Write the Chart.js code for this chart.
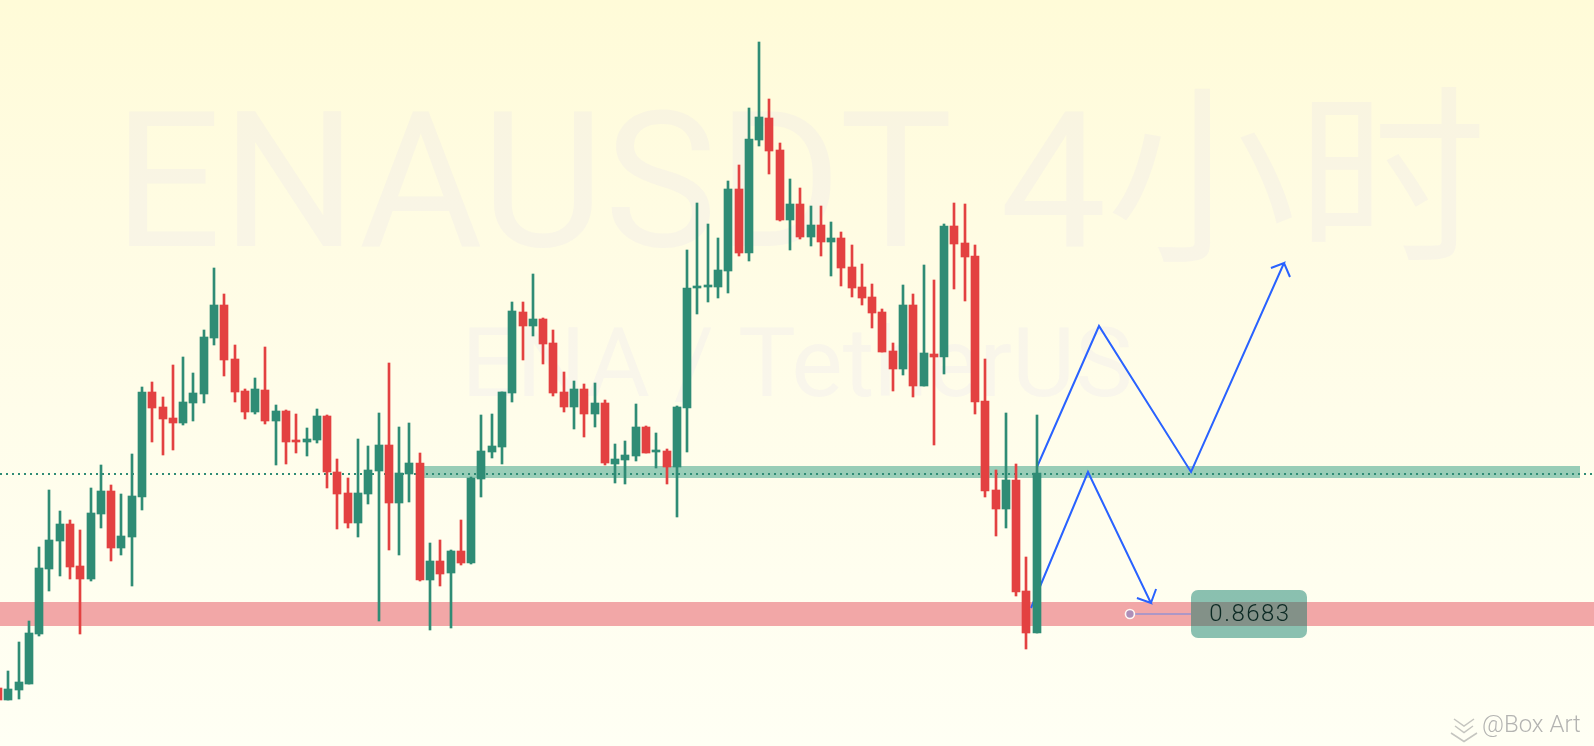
<!DOCTYPE html>
<html>
<head>
<meta charset="utf-8">
<title>ENAUSDT 4小时</title>
<script src="https://cdn.jsdelivr.net/npm/chart.js@4/dist/chart.umd.min.js"></script>
<style>
    html, body { margin: 0; padding: 0; overflow: hidden; }
    body { width: 1594px; height: 746px; background: linear-gradient(180deg, #FFFBD8 0%, #FFFCE3 30%, #FFFDEA 55%, #FFFFF4 100%); }
    canvas { display: block; }
</style>
</head>
<body>
<canvas id="chart" width="1594" height="746"></canvas>
<script>
// candles (price per bar)
const opens  = [.794,.782,.792,.798,.848,.913,.941,.958,.916,.903,.968,.991,.934,.945,.985,1.090,1.075,1.064,1.059,1.079,
    1.088,1.144,1.177,1.123,1.091,1.070,1.092,1.061,1.071,1.042,1.040,1.042,1.066,1.010,.989,.959,.988,1.011,1.037,.979,
    1.008,1.019,.902,.921,.909,.931,.919,1.003,1.030,1.035,1.089,1.170,1.156,1.163,1.139,1.090,1.075,1.093,1.068,1.079,
    1.018,1.022,1.026,1.055,1.030,1.031,1.015,1.074,1.194,1.195,1.195,1.211,1.293,1.229,1.342,1.364,1.332,1.262,1.278,1.245,
    1.257,1.240,1.244,1.215,1.195,1.185,1.170,1.131,1.113,1.177,1.096,1.128,1.125,1.256,1.239,1.226,1.081,.992,.973,1.002,
    .891,.849];
const closes = [.782,.793,.800,.849,.914,.942,.958,.915,.903,.969,.991,.934,.946,.986,1.090,1.074,1.063,1.059,1.080,1.089,
    1.145,1.177,1.122,1.090,1.070,1.093,1.061,1.071,1.040,1.040,1.043,1.066,1.010,.988,.959,.989,1.012,1.037,.979,1.009,
    1.019,.902,.921,.908,.931,.919,1.004,1.031,1.036,1.090,1.171,1.156,1.163,1.138,1.089,1.075,1.093,1.068,1.079,1.019,
    1.023,1.027,1.055,1.029,1.032,1.015,1.075,1.194,1.196,1.197,1.212,1.293,1.229,1.343,1.365,1.331,1.262,1.278,1.245,1.257,
    1.240,1.244,1.214,1.194,1.184,1.169,1.130,1.113,1.177,1.096,1.129,1.125,1.256,1.238,1.225,1.080,.991,.973,1.002,.890,
    .849,1.009];
const highs  = [.794,.811,.840,.861,.935,.992,.971,.962,.952,.994,1.017,.997,.988,1.028,1.095,1.100,1.085,1.117,1.125,1.109,
    1.152,1.214,1.188,1.137,1.093,1.104,1.135,1.077,1.072,1.068,1.054,1.073,1.067,1.023,1.004,1.043,1.036,1.069,1.119,1.055,
    1.059,1.029,.939,.942,.932,.962,1.005,1.067,1.068,1.090,1.180,1.180,1.208,1.164,1.152,1.110,1.101,1.098,1.099,1.082,
    1.038,1.041,1.078,1.056,1.049,1.033,1.076,1.232,1.279,1.258,1.244,1.301,1.317,1.374,1.440,1.383,1.339,1.303,1.294,1.276,
    1.276,1.260,1.250,1.237,1.218,1.198,1.173,1.139,1.197,1.188,1.217,1.202,1.258,1.279,1.278,1.237,1.123,1.012,1.069,1.018,
    .925,1.067];
const lows   = [.782,.782,.783,.798,.846,.891,.906,.903,.848,.901,.954,.921,.927,.896,.972,1.040,1.027,1.032,1.057,1.061,
    1.079,1.137,1.106,1.080,1.063,1.068,1.058,1.017,1.018,1.029,1.026,1.039,.994,.953,.954,.945,.978,.861,.932,.927,
    .980,.901,.852,.896,.854,.917,.918,.985,1.024,1.018,1.080,1.122,1.146,1.118,1.086,1.070,1.053,1.045,1.055,1.017,
    .999,.998,1.021,1.029,1.014,.998,.965,1.030,1.168,1.180,1.184,1.189,1.226,1.221,1.336,1.308,1.261,1.232,1.243,1.236,
    1.226,1.206,1.196,1.185,1.177,1.154,1.130,1.091,1.107,1.085,1.096,1.037,1.108,1.193,1.181,1.068,.985,.946,.954,.886,
    .833,.849];

// horizontal zones and the last price line
const redZone     = [.856, .880];
const greenZone   = [1.004, 1.016];
const greenZoneX  = [41.42, 153.82];
const priceLine   = 1.008;
const priceLineX  = [.1945, 13.22, null, 14.78, 155.18];
const markedPrice = .8683;
const markedX     = 110.06;

// hand drawn blue paths, in bar index / price
const pathUpX   = [101.02, 107.05, 116.0, 125.04, 123.77, 125.04, 125.62];
const pathUpY   = [1.015, 1.156, 1.010, 1.219, 1.214, 1.219, 1.205];
const pathDownX = [100.44, 105.98, 112.1, 110.74, 112.1, 112.6];
const pathDownY = [.874, 1.010, .879, .884, .879, .893];

const titleText    = 'ENAUSDT 4小时';
const subtitleText = 'ENA / TetherUS';
const markText     = '@Box Art';

const GREEN = '#2F8C75';
const RED   = '#E34141';

const candleIndex = opens.map((_, i) => i);
const candleColor = candleIndex.map(i => closes[i] >= opens[i] ? GREEN : RED);

function points(xs, ys) {
    return xs.map((x, i) => ({ x, y: ys[i] }));
}

// keeps candle edges on whole pixels like the source screenshot
const snapBars = {
    id: 'snapBars',
    afterDatasetsUpdate(chart) {
        chart.getSortedVisibleDatasetMetas().forEach(meta => {
            if (meta.type !== 'bar') return;
            meta.data.forEach(el => { el.x = Math.round(el.x); });
        });
    }
};

const watermarks = {
    id: 'watermarks',
    beforeDatasetsDraw(chart) {
        const ctx = chart.ctx;
        ctx.save();
        ctx.textAlign = 'center';
        ctx.textBaseline = 'alphabetic';
        ctx.fillStyle = 'rgba(195,190,255,0.1)';
        ctx.font = '190px Roboto, "Noto Sans CJK SC"';
        ctx.fillText(titleText, 800, 246);
        ctx.font = '97px Roboto, "Noto Sans CJK SC"';
        ctx.fillText(subtitleText, 797, 396);
        ctx.restore();
    }
};

const markedLevel = {
    id: 'markedLevel',
    afterDatasetsDraw(chart) {
        const ctx = chart.ctx;
        const y = Math.round(chart.scales.y.getPixelForValue(markedPrice));
        const x = chart.scales.x.getPixelForValue(markedX);
        const boxLeft = 1191, boxRight = 1307;

        ctx.save();
        ctx.strokeStyle = '#AE97C6';
        ctx.lineWidth = 2;
        ctx.beginPath();
        ctx.moveTo(x, y);
        ctx.lineTo(boxLeft, y);
        ctx.stroke();

        ctx.beginPath();
        ctx.arc(x, y, 4.5, 0, Math.PI * 2);
        ctx.fillStyle = '#AE8FB8';
        ctx.fill();
        ctx.strokeStyle = '#FFF8F4';
        ctx.lineWidth = 1.6;
        ctx.stroke();

        ctx.beginPath();
        ctx.roundRect(boxLeft, y - 24, boxRight - boxLeft, 48, 7);
        ctx.fillStyle = 'rgba(0,120,100,0.46)';
        ctx.fill();

        ctx.fillStyle = '#0C2A24';
        ctx.font = '300 24px Roboto';
        ctx.letterSpacing = '1.5px';
        ctx.textAlign = 'center';
        ctx.textBaseline = 'middle';
        ctx.fillText(markedPrice.toFixed(4), (boxLeft + boxRight) / 2 + 1, y + 1);
        ctx.restore();

        // site logo and handle, bottom right
        ctx.save();
        ctx.strokeStyle = 'rgba(150,150,150,0.55)';
        ctx.lineWidth = 1.5;
        [[0, 6], [7, 5], [14, 9]].forEach(([dy, w]) => {
            ctx.beginPath();
            ctx.moveTo(1464 - w - 4, 719 + dy);
            ctx.lineTo(1464, 723 + dy + w / 2);
            ctx.lineTo(1464 + w + 4, 719 + dy);
            ctx.stroke();
        });
        ctx.font = '300 24px Roboto';
        ctx.textAlign = 'left';
        ctx.textBaseline = 'alphabetic';
        ctx.shadowColor = '#FFFFFF';
        ctx.shadowBlur = 2;
        ctx.fillStyle = 'rgba(130,130,130,0.6)';
        ctx.fillText(markText, 1482, 732);
        ctx.restore();
    }
};

new Chart(document.getElementById('chart'), {
    type: 'bar',
    data: {
        datasets: [
            {
                type: 'line',
                order: 9,
                data: points([.1945, 155.18], [redZone[1], redZone[1]]),
                borderWidth: 0,
                pointRadius: 0,
                fill: { target: { value: redZone[0] } },
                backgroundColor: '#F2A7A7'
            },
            {
                type: 'line',
                order: 8,
                data: points(greenZoneX, [greenZone[1], greenZone[1]]),
                borderWidth: 0,
                pointRadius: 0,
                fill: { target: { value: greenZone[0] } },
                backgroundColor: '#98CDB7'
            },
            {
                type: 'line',
                order: 7,
                data: priceLineX.map(x => ({ x, y: x === null ? null : priceLine })),
                borderColor: GREEN,
                borderWidth: 2,
                borderDash: [2, 4],
                pointRadius: 0,
                spanGaps: false
            },
            {
                type: 'line',
                order: 6,
                data: points(pathUpX, pathUpY),
                borderColor: '#2962FF',
                borderWidth: 2,
                pointRadius: 0,
                tension: 0
            },
            {
                type: 'line',
                order: 6,
                data: points(pathDownX, pathDownY),
                borderColor: '#2962FF',
                borderWidth: 2,
                pointRadius: 0,
                tension: 0
            },
            {
                // wicks
                order: 5,
                data: candleIndex.map(i => ({ x: i, y: [lows[i], highs[i]] })),
                backgroundColor: candleColor,
                barThickness: 2,
                grouped: false
            },
            {
                // bodies
                order: 4,
                data: candleIndex.map(i => ({ x: i, y: [opens[i], closes[i]] })),
                backgroundColor: candleColor,
                barThickness: 8,
                grouped: false
            }
        ]
    },
    options: {
        responsive: false,
        animation: false,
        devicePixelRatio: 1,
        layout: { padding: 0 },
        plugins: { legend: { display: false }, tooltip: { enabled: false } },
        scales: {
            x: { type: 'linear', min: .1945, max: 155.18, offset: false, display: false },
            y: { type: 'linear', min: .736, max: 1.482, display: false }
        }
    },
    plugins: [snapBars, watermarks, markedLevel]
});
</script>
</body>
</html>
